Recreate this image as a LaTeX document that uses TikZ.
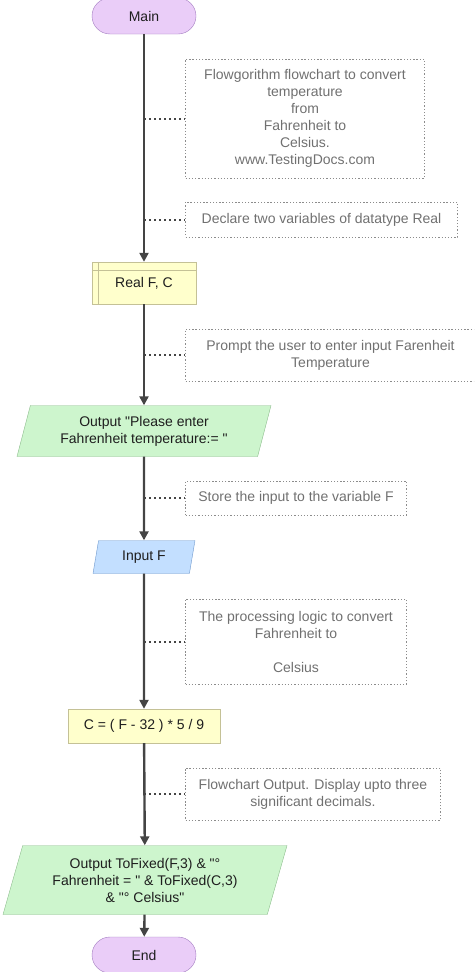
\documentclass[tikz,border=0pt]{standalone}
\usepackage{fontspec}
\setmainfont{Liberation Sans}[Ligatures=TeXOff]
\usetikzlibrary{arrows.meta}
\usetikzlibrary{shapes.geometric}

\definecolor{termfill}{HTML}{EACDF8}
\definecolor{termdraw}{HTML}{A27CC0}
\definecolor{procfill}{HTML}{FFFFCC}
\definecolor{procdraw}{HTML}{C4C196}
\definecolor{outfill}{HTML}{CDF5CD}
\definecolor{outdraw}{HTML}{8CBB8C}
\definecolor{infill}{HTML}{C3DFFF}
\definecolor{indraw}{HTML}{6E98CC}
\definecolor{flowcol}{HTML}{444444}
\definecolor{notedraw}{HTML}{8C8C8C}
\definecolor{notetext}{HTML}{707070}
\definecolor{textdark}{HTML}{1E1E1E}

\begin{document}
\begin{tikzpicture}[x=1pt,y=-1pt,
    every node/.style={font=\fontsize{14}{17}\selectfont,text=textdark,inner sep=0pt},
    term/.style={draw=termdraw,fill=termfill,rounded corners=18pt,minimum width=104pt,minimum height=36pt},
    decl/.style={draw=procdraw,fill=procfill,minimum width=104pt,minimum height=42pt},
    proc/.style={draw=procdraw,fill=procfill,minimum width=152pt,minimum height=34pt},
    iobox/.style={trapezium,trapezium left angle=66,trapezium right angle=114,
      trapezium stretches body,align=center},
    outp/.style={iobox,draw=outdraw,fill=outfill},
    inp/.style={iobox,draw=indraw,fill=infill},
    note/.style={draw=notedraw,line width=1pt,dash pattern=on 1.3pt off 1.9pt,
      text=notetext,align=center,anchor=west},
    flow/.style={draw=flowcol,line width=2.4pt,-{Triangle[length=9pt,width=9pt]}},
    noteline/.style={draw=flowcol,line width=2pt,dash pattern=on 2pt off 3pt}
  ]

    % fix the frame of the picture
    \useasboundingbox (0,0) rectangle (474,972);
    \clip (0,0) rectangle (474,972);

    % flowchart blocks
    \node [term] (main) at (144,16) {Main};
    \node [decl] (real) at (144,283) {Real F, C};
    \node [outp,minimum width=254pt,minimum height=51pt] (out1) at (144,431)
      {Output "Please enter\\Fahrenheit temperature:= "};
    \node [inp,minimum width=102pt,minimum height=33pt] (inF) at (144,557) {Input F};
    \node [proc] (calc) at (144,726) {C = ( F - 32 ) * 5 / 9};
    \node [outp,minimum width=284pt,minimum height=69pt] (out2) at (145,880)
      {Output ToFixed(F,3) \& "°\\Fahrenheit = " \& ToFixed(C,3)\\\& "° Celsius"};
    \node [term] (end) at (144,955) {End};

    % declare box inner lines
    \draw [procdraw] ([xshift=6pt]real.north west) -- ([xshift=6pt]real.south west);
    \draw [procdraw] ([yshift=-8pt]real.north west) -- ([yshift=-8pt]real.north east);

    % comments
    \node [note,minimum width=239pt,minimum height=119pt] (note1) at (185,118.5)
      {Flowgorithm flowchart to convert\\temperature\\from\\Fahrenheit to\\Celsius.\\www.TestingDocs.com};
    \node [note,minimum width=272pt,minimum height=35pt] (note2) at (185,219.5)
      {Declare two variables of datatype Real};
    \node [note,minimum width=290pt,minimum height=52pt] (note3) at (185,355)
      {Prompt the user to enter input Farenheit\\Temperature};
    \node [note,minimum width=221pt,minimum height=34pt] (note4) at (185,498)
      {Store the input to the variable F};
    \node [note,minimum width=221pt,minimum height=85pt] (note5) at (185,641.5)
      {The processing logic to convert\\Fahrenheit to\\\strut\\Celsius};
    \node [note,minimum width=255pt,minimum height=52pt] (note6) at (185,794)
      {Flowchart Output. Display upto three\\significant decimals.};

    % flow arrows
    \foreach \a/\b in {main/real,real/out1,out1/inF,inF/calc,calc/out2,out2/end}
      \draw [flow] (\a) -- (\b);

    % dotted links to the comments
    \foreach \n in {1,...,6} {
      \coordinate (c\n) at (note\n.west -| main.south);
      \draw [noteline] (c\n) -- (note\n.west);
    }

\end{tikzpicture}
\end{document}
